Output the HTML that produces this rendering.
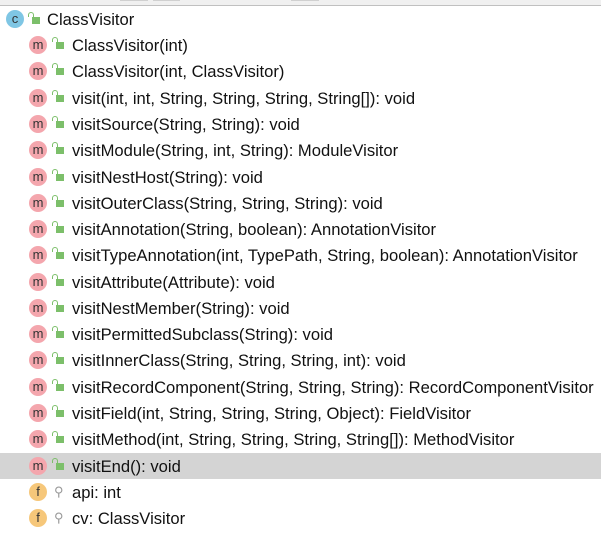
<!DOCTYPE html>
<html><head><style>
body{margin:0;width:601px;height:538px;background:#fff;position:relative;overflow:hidden;font-family:"Liberation Sans","Noto Sans CJK SC",sans-serif;}
.top{position:absolute;left:0;top:0;width:601px;height:5px;background:#f0f0f0;border-bottom:1px solid #c0c0c0;}
.tab{position:absolute;top:0;height:1px;background:#d0d0d0;}
.row{position:absolute;left:0;width:601px;height:26px;}
.hl{background:#d4d4d4;}
.ic{position:absolute;width:18px;height:18px;border-radius:50%;font-size:13px;line-height:17px;text-align:center;color:#333;}
.m{background:#f4a6ad;}
.f{background:#f6c77a;}
.c{background:#7fc6e4;}
.lk{position:absolute;width:8px;height:7px;background:#7cbf6a;}
.lk:before{content:"";position:absolute;left:-4px;top:-5px;width:4px;height:4px;border:1.5px solid #7cbf6a;border-bottom:none;border-radius:3px 3px 0 0;}
.key{position:absolute;color:#999;font-size:13px;}
.t{position:absolute;font-size:16.6px;color:#111;white-space:nowrap;}
</style></head><body>
<div class="top"></div>
<div class="tab" style="left:120px;width:28px"></div>
<div class="tab" style="left:153px;width:27px"></div>
<div class="tab" style="left:291px;width:28px"></div>

<div class="row" style="top:7px">
<div class="ic c" style="left:6px;top:3px">c</div>
<div class="lk" style="left:32px;top:10px"></div>
<div class="t" style="left:47px;top:3px">ClassVisitor</div>
</div>

<div class="row" style="top:32px"><div class="ic m" style="left:29px;top:4px">m</div><div class="lk" style="left:56px;top:10px"></div><div class="t" style="left:72px;top:4px">ClassVisitor(int)</div></div>
<div class="row" style="top:58px"><div class="ic m" style="left:29px;top:4px">m</div><div class="lk" style="left:56px;top:10px"></div><div class="t" style="left:72px;top:4px">ClassVisitor(int, ClassVisitor)</div></div>
<div class="row" style="top:85px"><div class="ic m" style="left:29px;top:4px">m</div><div class="lk" style="left:56px;top:10px"></div><div class="t" style="left:72px;top:4px">visit(int, int, String, String, String, String[]): void</div></div>
<div class="row" style="top:111px"><div class="ic m" style="left:29px;top:4px">m</div><div class="lk" style="left:56px;top:10px"></div><div class="t" style="left:72px;top:4px">visitSource(String, String): void</div></div>
<div class="row" style="top:137px"><div class="ic m" style="left:29px;top:4px">m</div><div class="lk" style="left:56px;top:10px"></div><div class="t" style="left:72px;top:4px">visitModule(String, int, String): ModuleVisitor</div></div>
<div class="row" style="top:164px"><div class="ic m" style="left:29px;top:4px">m</div><div class="lk" style="left:56px;top:10px"></div><div class="t" style="left:72px;top:4px">visitNestHost(String): void</div></div>
<div class="row" style="top:190px"><div class="ic m" style="left:29px;top:4px">m</div><div class="lk" style="left:56px;top:10px"></div><div class="t" style="left:72px;top:4px">visitOuterClass(String, String, String): void</div></div>
<div class="row" style="top:216px"><div class="ic m" style="left:29px;top:4px">m</div><div class="lk" style="left:56px;top:10px"></div><div class="t" style="left:72px;top:4px">visitAnnotation(String, boolean): AnnotationVisitor</div></div>
<div class="row" style="top:242px"><div class="ic m" style="left:29px;top:4px">m</div><div class="lk" style="left:56px;top:10px"></div><div class="t" style="left:72px;top:4px">visitTypeAnnotation(int, TypePath, String, boolean): AnnotationVisitor</div></div>
<div class="row" style="top:269px"><div class="ic m" style="left:29px;top:4px">m</div><div class="lk" style="left:56px;top:10px"></div><div class="t" style="left:72px;top:4px">visitAttribute(Attribute): void</div></div>
<div class="row" style="top:295px"><div class="ic m" style="left:29px;top:4px">m</div><div class="lk" style="left:56px;top:10px"></div><div class="t" style="left:72px;top:4px">visitNestMember(String): void</div></div>
<div class="row" style="top:321px"><div class="ic m" style="left:29px;top:4px">m</div><div class="lk" style="left:56px;top:10px"></div><div class="t" style="left:72px;top:4px">visitPermittedSubclass(String): void</div></div>
<div class="row" style="top:347px"><div class="ic m" style="left:29px;top:4px">m</div><div class="lk" style="left:56px;top:10px"></div><div class="t" style="left:72px;top:4px">visitInnerClass(String, String, String, int): void</div></div>
<div class="row" style="top:374px"><div class="ic m" style="left:29px;top:4px">m</div><div class="lk" style="left:56px;top:10px"></div><div class="t" style="left:72px;top:4px">visitRecordComponent(String, String, String): RecordComponentVisitor</div></div>
<div class="row" style="top:400px"><div class="ic m" style="left:29px;top:4px">m</div><div class="lk" style="left:56px;top:10px"></div><div class="t" style="left:72px;top:4px">visitField(int, String, String, String, Object): FieldVisitor</div></div>
<div class="row" style="top:426px"><div class="ic m" style="left:29px;top:4px">m</div><div class="lk" style="left:56px;top:10px"></div><div class="t" style="left:72px;top:4px">visitMethod(int, String, String, String, String[]): MethodVisitor</div></div>
<div class="row hl" style="top:453px"><div class="ic m" style="left:29px;top:4px">m</div><div class="lk" style="left:56px;top:10px"></div><div class="t" style="left:72px;top:4px">visitEnd(): void</div></div>
<div class="row" style="top:479px"><div class="ic f" style="left:29px;top:4px">f</div><div class="key" style="left:54px;top:5px">⚲</div><div class="t" style="left:72px;top:4px">api: int</div></div>
<div class="row" style="top:505px"><div class="ic f" style="left:29px;top:4px">f</div><div class="key" style="left:54px;top:5px">⚲</div><div class="t" style="left:72px;top:4px">cv: ClassVisitor</div></div>
</body></html>
